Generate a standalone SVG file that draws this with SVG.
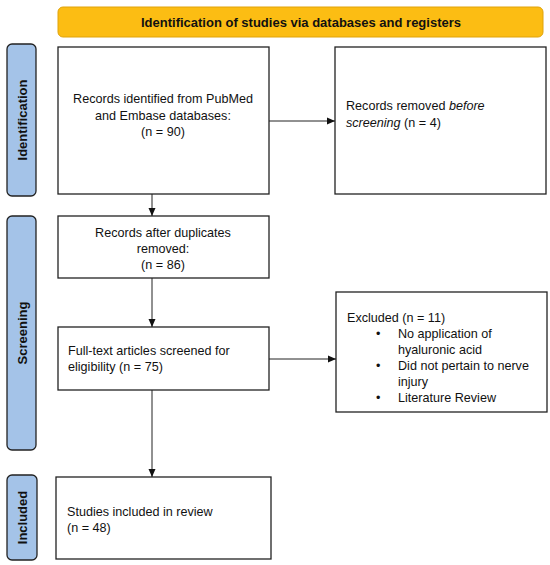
<svg xmlns="http://www.w3.org/2000/svg" width="550" height="565" viewBox="0 0 550 565">
<style>
.box{fill:#fff;stroke:#222;stroke-width:1.3}
.phase{fill:#a4c3e8;stroke:#222;stroke-width:1.3}
.t{font-family:"Liberation Sans",Arial,sans-serif;font-size:12.6px;fill:#111}
.ph{font-family:"Liberation Sans",Arial,sans-serif;font-size:13px;font-weight:bold;fill:#111}
.c{text-anchor:middle}
.ln{stroke:#222;stroke-width:1;fill:none}
</style>
<defs>
<marker id="ah" markerWidth="8" markerHeight="8" refX="8" refY="4" orient="auto" markerUnits="userSpaceOnUse">
<path d="M0,0.5 L8,4 L0,7.5 Z" fill="#111"/>
</marker>
</defs>
<rect width="550" height="565" fill="#fff"/>
<g id="title">
<rect x="58" y="7" width="485" height="30" rx="5" fill="#fcbd13" stroke="#e0a30a" stroke-width="1"/>
<text class="ph c" x="301" y="27" font-size="13.4">Identification of studies via databases and registers</text>
</g>
<g id="phase-identification">
<rect class="phase" x="7" y="44" width="29" height="152" rx="5"/>
<text class="ph c" transform="translate(26.5,120) rotate(-90)">Identification</text>
</g>
<g id="phase-screening">
<rect class="phase" x="7" y="216" width="29" height="234" rx="5"/>
<text class="ph c" transform="translate(26.5,333) rotate(-90)">Screening</text>
</g>
<g id="phase-included">
<rect class="phase" x="7" y="475" width="30" height="85" rx="5"/>
<text class="ph c" transform="translate(27,517.5) rotate(-90)">Included</text>
</g>
<g id="records-identified">
<rect class="box" x="58" y="47" width="211" height="147"/>
<text class="t c" x="163" y="103">Records identified from PubMed</text>
<text class="t c" x="163" y="119.5">and Embase databases:</text>
<text class="t c" x="163" y="136">(n = 90)</text>
</g>
<g id="records-removed">
<rect class="box" x="335" y="47" width="211" height="147"/>
<text class="t" x="346" y="110">Records removed <tspan font-style="italic">before</tspan></text>
<text class="t" x="346" y="126.5"><tspan font-style="italic">screening</tspan> (n = 4)</text>
</g>
<g id="after-duplicates">
<rect class="box" x="58" y="216" width="211" height="62"/>
<text class="t c" x="163" y="236.5">Records after duplicates</text>
<text class="t c" x="163" y="252.5">removed:</text>
<text class="t c" x="163" y="269">(n = 86)</text>
</g>
<g id="full-text">
<rect class="box" x="58" y="327" width="211" height="63"/>
<text class="t" x="68" y="355">Full-text articles screened for</text>
<text class="t" x="68" y="370.5">eligibility (n = 75)</text>
</g>
<g id="excluded">
<rect class="box" x="336" y="292" width="211" height="120"/>
<text class="t" x="347" y="322">Excluded (n = 11)</text>
<text class="t" x="376" y="338" font-size="10">•</text>
<text class="t" x="398" y="338">No application of</text>
<text class="t" x="398" y="354">hyaluronic acid</text>
<text class="t" x="376" y="370" font-size="10">•</text>
<text class="t" x="398" y="370">Did not pertain to nerve</text>
<text class="t" x="398" y="386">injury</text>
<text class="t" x="376" y="402" font-size="10">•</text>
<text class="t" x="398" y="402">Literature Review</text>
</g>
<g id="studies-included">
<rect class="box" x="56" y="477" width="215" height="82"/>
<text class="t" x="67" y="516">Studies included in review</text>
<text class="t" x="67" y="532">(n = 48)</text>
</g>
<g id="connectors">
<line class="ln" x1="269" y1="121" x2="335" y2="121" marker-end="url(#ah)"/>
<line class="ln" x1="152" y1="194" x2="152" y2="216" marker-end="url(#ah)"/>
<line class="ln" x1="152" y1="278" x2="152" y2="327" marker-end="url(#ah)"/>
<line class="ln" x1="269" y1="359" x2="336" y2="359" marker-end="url(#ah)"/>
<line class="ln" x1="152" y1="390" x2="152" y2="477" marker-end="url(#ah)"/>
</g>
</svg>
